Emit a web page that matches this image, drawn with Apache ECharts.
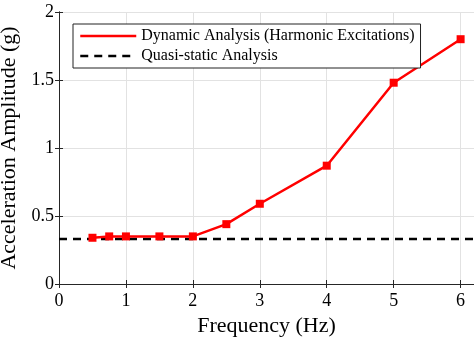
<!DOCTYPE html>
<html><head><meta charset="utf-8">
<script src="https://cdn.jsdelivr.net/npm/echarts@6/dist/echarts.min.js"></script>
<style>html,body{margin:0;padding:0;background:#fff}#c{width:474px;height:338px}</style>
</head><body><div id="c"></div>
<script>
const frequency = [0.5, 0.75, 1, 1.5, 2, 2.5, 3, 4, 5, 6];
const dynamicAmp = [0.34, 0.35, 0.35, 0.35, 0.35, 0.44, 0.59, 0.87, 1.48, 1.80];
const quasiStaticAmp = 0.33;
const quasiRange = [0, 6.2];
const seriesNames = ['Dynamic Analysis (Harmonic Excitations)', 'Quasi-static Analysis'];

const font = 'Liberation Serif, Times New Roman, serif';
const axisCol = '#262626';
const chart = echarts.init(document.getElementById('c'));
const baseAxis = {
  axisLine: {show: true, lineStyle: {color: axisCol, width: 1}},
  axisTick: {show: true, inside: true, length: 4, lineStyle: {color: axisCol}},
  axisLabel: {color: '#000', fontFamily: font, fontSize: 18},
  splitLine: {show: true, lineStyle: {color: '#e2e2e2', width: 1}},
  nameTextStyle: {color: '#000', fontFamily: font, fontSize: 22}
};
chart.setOption({
  animation: false,
  grid: {left: 59, top: 12, right: 0, bottom: 54, containLabel: false, outerBoundsMode: 'none'},
  legend: {
    left: 73, top: 24, orient: 'vertical',
    borderColor: '#222', borderWidth: 1, backgroundColor: '#fff',
    padding: [4, 6, 4, 6], itemGap: 4, itemWidth: 56, itemHeight: 10,
    textStyle: {fontFamily: font, fontSize: 16, color: '#000'},
    data: [
      {name: seriesNames[0], itemStyle: {opacity: 0}, lineStyle: {width: 2.5}},
      {name: seriesNames[1], itemStyle: {opacity: 0}, lineStyle: {width: 2.5}}
    ]
  },
  xAxis: [
    Object.assign({}, baseAxis, {type: 'value', min: 0, max: 6.2, interval: 1,
      name: 'Frequency (Hz)', nameLocation: 'middle', nameGap: 30,
      axisLabel: Object.assign({}, baseAxis.axisLabel, {margin: 8,
        formatter: v => (v > 6.1 ? '' : v)})}),
    Object.assign({}, baseAxis, {type: 'value', min: 0, max: 6.2, interval: 1, position: 'top',
      axisLabel: {show: false}, splitLine: {show: false}})
  ],
  yAxis: [
    Object.assign({}, baseAxis, {type: 'value', min: 0, max: 2, interval: 0.5,
      name: 'Acceleration Amplitude (g)', nameLocation: 'middle', nameGap: 34,
      axisLabel: Object.assign({}, baseAxis.axisLabel, {margin: 5})}),
    Object.assign({}, baseAxis, {type: 'value', min: 0, max: 2, interval: 0.5, position: 'right',
      axisLabel: {show: false}, splitLine: {show: false}})
  ],
  series: [
    {name: seriesNames[1], type: 'line', symbol: 'none',
      data: quasiRange.map(x => [x, quasiStaticAmp]),
      lineStyle: {color: '#000', width: 2.5, type: [8, 6]}, itemStyle: {color: '#000'}, z: 2},
    {name: seriesNames[0], type: 'line', symbol: 'rect', symbolSize: 8,
      data: frequency.map((f, i) => [f, dynamicAmp[i]]),
      lineStyle: {color: '#f00', width: 2.5}, itemStyle: {color: '#f00'}, z: 3}
  ]
});
</script></body></html>
